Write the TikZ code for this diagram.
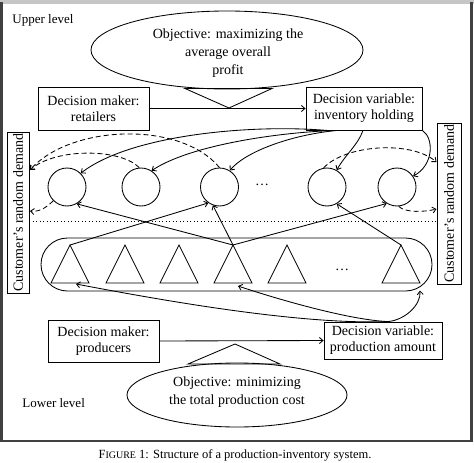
\documentclass[tikz,border=0pt]{standalone}
\usepackage{fontspec}
\setmainfont{Liberation Serif}
\usetikzlibrary{shapes.geometric,arrows.meta}
\begin{document}
\begin{tikzpicture}[x=1pt,y=-1pt, line width=0.85pt,
  >={Straight Barb[length=3.5pt,width=6pt]},
  txt/.style={font=\fontsize{14}{16}\selectfont},
  box/.style={draw, align=center, inner sep=0pt, txt},
  circ/.style={circle, draw, minimum size=38pt, inner sep=0pt},
  oval/.style={ellipse, draw, inner sep=0pt},
  dem/.style={draw, rotate=90, inner sep=0pt, minimum width=161pt, font=\fontsize{14}{16}\selectfont},
  lvl/.style={anchor=west, inner sep=0pt, font=\fontsize{13}{15}\selectfont},
  dsh/.style={->, dash pattern=on 5pt off 3pt},
  ]
\useasboundingbox (0,0) rectangle (474,463);
% frame
\fill[gray!45] (0,0) rectangle (474,3.5);
\draw[line width=2.6pt, black!75] (1.3,2) -- (1.3,441) -- (471.5,441) -- (471.5,2);
% texts of levels
\node[lvl] (up) at (12,20) {Upper level};
\node[lvl] (low) at (22,403) {Lower level};
% upper objective
\node[oval, minimum width=272pt, minimum height=78pt] (objU) at (227,50) {};
\node[align=center, inner sep=0pt, font=\fontsize{14}{18}\selectfont] (objUt) at (228,53) {Objective: maximizing the\\average overall\\profit};
\draw (185,88.5) -- (229,108) -- (272,88.5) -- cycle;
% upper boxes
\node[box, minimum width=111pt, minimum height=43pt] (ret) at (93.5,108.5) {Decision maker:\\retailers};
\node[box, minimum width=116pt, minimum height=43pt] (inv) at (364,108.5) {Decision variable:\\inventory holding};
\draw[->] (ret.east) -- (inv.west);
% demand boxes
\node[dem, minimum height=22pt] (demL) at (18,212.5) {Customer’s random demand};
\node[dem, minimum height=24pt] (demR) at (449,203.5) {Customer’s random demand};
\coordinate (dl1) at (30,170);
\coordinate (dl2) at (30,211);
\coordinate (dr1) at (436.5,162);
\coordinate (dr2) at (436.5,209);
% retailers
\node[circ] (c1) at (67,187) {};
\node[circ] (c2) at (141,187) {};
\node[circ] (c3) at (219.5,187) {};
\node[inner sep=0pt, font=\fontsize{14}{16}\selectfont] (cdots) at (262,185) {\dots};
\node[circ] (c4) at (327,187) {};
\node[circ] (c5) at (397,187) {};
% dotted separator
\coordinate (sepL) at (29,221);
\coordinate (sepR) at (437,221);
\draw[line width=0.7pt, dash pattern=on 0.9pt off 2.6pt] (sepL) -- (sepR);
% producers group
\node[draw, rounded corners=26.5pt, minimum width=391pt, minimum height=53pt, inner sep=0pt] (grp) at (236.5,264.5) {};
\foreach \n/\x in {1/70,2/125,3/179,4/233,5/287,6/401}{
  \coordinate (t\n) at (\x,245);
  \draw (\x,245) -- (\x-19,283) -- (\x+19,283) -- cycle;
}
\node[inner sep=0pt, font=\fontsize{14}{16}\selectfont] (tdots) at (342,270) {\dots};
\coordinate (b1) at (76,284);
\coordinate (b4) at (238,286);
\coordinate (b6) at (420,290.5);
% lower boxes
\node[box, minimum width=111pt, minimum height=42pt] (prod) at (103.5,341) {Decision maker:\\producers};
\node[box, minimum width=118pt, minimum height=37pt] (amt) at (383,340.5) {Decision variable:\\production amount};
\draw[->] (prod.east) -- (amt.west);
% lower objective
\node[oval, minimum width=220pt, minimum height=64pt] (objL) at (237,395) {};
\node[align=center, inner sep=0pt, font=\fontsize{14}{18}\selectfont] (objLt) at (237,392) {Objective: minimizing\\the total production cost};
\draw (188,364) -- (235,344) -- (280,364) -- cycle;
% inventory holding -> retailers
\draw[->] ([xshift=-37pt]inv.south) .. controls (250,124) and (130,135) .. (c1.45);
\draw[->] ([xshift=-27pt]inv.south) .. controls (280,132) and (190,145) .. (c2.57);
\draw[->] ([xshift=-27pt]inv.south) .. controls (290,135) and (245,152) .. (c3.58);
\draw[->] ([xshift=-1pt]inv.south) .. controls (358,145) and (345,155) .. (c4.60);
\draw[->] (inv.south east) .. controls (434,138) and (434,165) .. (c5.34);
% demand (dashed)
\draw[dsh] (c3.90) .. controls (180,120) and (70,125) .. (dl1);
\draw[dsh] (c2.95) .. controls (120,148) and (55,148) .. (dl1);
\draw[dsh] (c1.225) .. controls (45,209) and (38,212) .. (dl2);
\draw[dsh] (c4.100) .. controls (345,145) and (410,140) .. (dr1);
\draw[dsh] (c5.275) .. controls (405,213) and (425,212) .. (dr2);
% producers -> retailers
\draw[->] (t1) -- (c3.235);
\draw[->] (t4) -- (c1.300);
\draw[->] (t4) -- (c3.250);
\draw[->] (t4) -- (c5.238);
\draw[->] (t6) -- (c4.300);
% production amount -> producers
\draw[->] ([xshift=5pt]amt.north) .. controls (405,320) and (421,305) .. (b6);
\draw[->] ([xshift=5pt]amt.north) .. controls (300,325) and (160,300) .. (b1);
\draw[->] ([xshift=5pt]amt.north) .. controls (350,320) and (280,300) .. (b4);
% caption
\node[anchor=base, inner sep=0pt, font=\fontsize{12.5}{14}\selectfont] (cap) at (235,458.5) {F{\fontsize{10}{10}\selectfont IGURE} 1: Structure of a production-inventory system.};
\end{tikzpicture}
\end{document}
